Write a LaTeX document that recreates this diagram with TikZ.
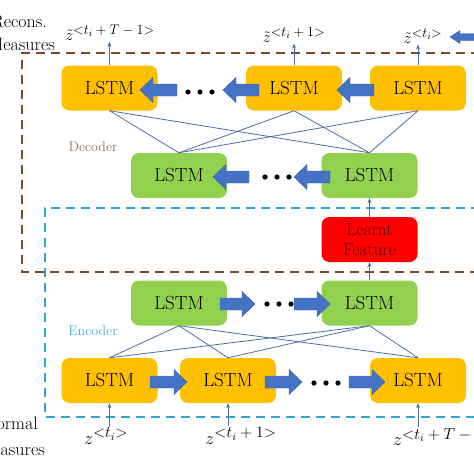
\documentclass[tikz,border=0pt]{standalone}
\usepackage{fix-cm}
\usetikzlibrary{arrows.meta}
\definecolor{lstmorange}{HTML}{FFC000}
\definecolor{lstmgreen}{HTML}{92D050}
\definecolor{featred}{HTML}{FF0000}
\definecolor{feattext}{HTML}{600000}
\definecolor{arrowblue}{HTML}{4472C4}
\definecolor{arrowedge}{HTML}{3A62AA}
\definecolor{thinblue}{HTML}{4A6FA5}
\definecolor{decbrown}{HTML}{7B4A2C}
\definecolor{enccyan}{HTML}{2EA8D3}
\definecolor{dectext}{HTML}{8D7360}
\definecolor{enctext}{HTML}{4BADD0}
\newcommand{\blkR}[3]{\filldraw[arrowblue,draw=arrowedge,line width=0.4pt] (#1,#3-6) -- (#2-13,#3-6) -- (#2-13,#3-12.5) -- (#2,#3) -- (#2-13,#3+12.5) -- (#2-13,#3+6) -- (#1,#3+6) -- cycle;}
\newcommand{\blkL}[3]{\filldraw[arrowblue,draw=arrowedge,line width=0.4pt] (#1,#3-6) -- (#2+13,#3-6) -- (#2+13,#3-12.5) -- (#2,#3) -- (#2+13,#3+12.5) -- (#2+13,#3+6) -- (#1,#3+6) -- cycle;}
\newcommand{\threedots}[2]{\fill[black] (#1,#2) circle (2.6) (#1+12,#2) circle (2.6) (#1+24,#2) circle (2.6);}
\newcommand{\supsz}[2]{\hbox{\fontsize{#1}{#1}\selectfont$#2$}}
\tikzset{
  lstmbox/.style={rounded corners=8pt, minimum width=96pt, minimum height=45pt, inner sep=0pt, font=\fontsize{19}{22}\selectfont},
  obox/.style={lstmbox, fill=lstmorange},
  gbox/.style={lstmbox, fill=lstmgreen},
  rbox/.style={lstmbox, fill=featred, text=feattext, align=center, font=\fontsize{17.5}{22}\selectfont},
  thinline/.style={thinblue, line width=0.8pt},
  thinarrow/.style={thinblue, line width=0.8pt, -{Stealth[length=5pt,width=4pt]}},
  toplabel/.style={inner sep=1pt, font=\fontsize{16}{18}\selectfont},
  botlabel/.style={inner sep=1pt, font=\fontsize{18}{20}\selectfont},
  sidelabel/.style={inner sep=0pt, font=\fontsize{18}{20}\selectfont, anchor=east}
}
\begin{document}
\begin{tikzpicture}[x=1pt,y=-1pt]
\useasboundingbox (0,0) rectangle (474,474);
\clip (0,0) rectangle (474,474);
% side labels (cut off)
\node[sidelabel] (rc1) at (47,21) {Recons.};
\node[sidelabel] (rc2) at (55,44) {Measures};
\node[sidelabel] (nm1) at (38,423) {Normal};
\node[sidelabel] (nm2) at (45,449) {Measures};
% dashed frames
\draw[enccyan, line width=2.3pt, dash pattern=on 9pt off 6pt] (495,208) -- (45,208) -- (45,417) -- (495,417);
\draw[decbrown, line width=2.3pt, dash pattern=on 9pt off 6pt] (495,53) -- (22,53) -- (22,272) -- (495,272);
\node[font=\fontsize{14}{16}\selectfont, text=dectext] (declab) at (93,147) {Decoder};
\node[font=\fontsize{14}{16}\selectfont, text=enctext] (enclab) at (93,331) {Encoder};
% boxes
\node[obox] (d1) at (109.5,88) {LSTM};
\node[obox] (d2) at (294,88) {LSTM};
\node[obox] (d3) at (418,88) {LSTM};
\node[gbox] (m1) at (179,175.5) {LSTM};
\node[gbox] (m2) at (369.5,175.5) {LSTM};
\node[rbox] (lf) at (369.5,239.5) {Learnt\\[-2pt]Feature};
\node[gbox] (e1) at (179,303) {LSTM};
\node[gbox] (e2) at (369.5,303) {LSTM};
\node[obox] (b1) at (109.5,380.5) {LSTM};
\node[obox] (b2) at (228,380.5) {LSTM};
\node[obox] (b3) at (418,380.5) {LSTM};
% thin cross connections
\foreach \t in {d1,d2,d3}{\foreach \m in {m1,m2}{\draw[thinline] (\t.south) -- (\m.north);}}
\foreach \t in {b1,b2,b3}{\foreach \m in {e1,e2}{\draw[thinline] (\t.north) -- (\m.south);}}
% labels
\node[toplabel] (zt1) at (110,33) {$\tilde z^{\supsz{14}{{<}t_i+T-1{>}}}$};
\node[toplabel] (zt2) at (294,35) {$\tilde z^{\supsz{14}{{<}t_i+1{>}}}$};
\node[toplabel] (zt3) at (423,36) {$\tilde z^{\supsz{14}{{<}t_i{>}}}$};
\node[botlabel] (z1) at (106,436) {$z^{\supsz{16}{{<}t_i{>}}}$};
\node[botlabel] (z2) at (241,436) {$z^{\supsz{16}{{<}t_i+1{>}}}$};
\node[botlabel, anchor=west] (z3) at (392,437) {$z^{\supsz{16}{{<}t_i+T-1{>}}}$};
% thin vertical arrows
\draw[thinarrow] (d1.north) -- (d1.north |- zt1.south);
\draw[thinarrow] (d2.north) -- (d2.north |- zt2.south);
\draw[thinarrow] (d3.north) -- (d3.north |- zt3.south);
\draw[thinarrow] (lf.north) -- (m2.south);
\draw[thinarrow] (e2.north) -- (lf.south);
\draw[thinarrow] (b1.south |- z1.north) -- (b1.south);
\draw[thinarrow] (b2.south |- z2.north) -- (b2.south);
\draw[thinarrow] (b3.south |- z3.north) -- (b3.south);
% block arrows
\blkL{374}{337}{90}
\blkL{259}{223}{90}
\threedots{188}{92}
\blkL{177}{140}{90}
\filldraw[arrowblue,draw=arrowedge,line width=0.4pt] (480,33.5) -- (460,33.5) -- (460,30.5) -- (450,37) -- (460,43.5) -- (460,40.5) -- (480,40.5) -- cycle;
\blkL{330}{294}{177}
\threedots{265}{177}
\blkL{249}{213}{177}
\blkR{220}{255}{304}
\threedots{267}{304}
\blkR{294}{330}{304}
\blkR{150}{187}{382}
\blkR{265}{302}{382}
\threedots{314}{383}
\blkR{349}{385}{382}
\end{tikzpicture}
\end{document}
